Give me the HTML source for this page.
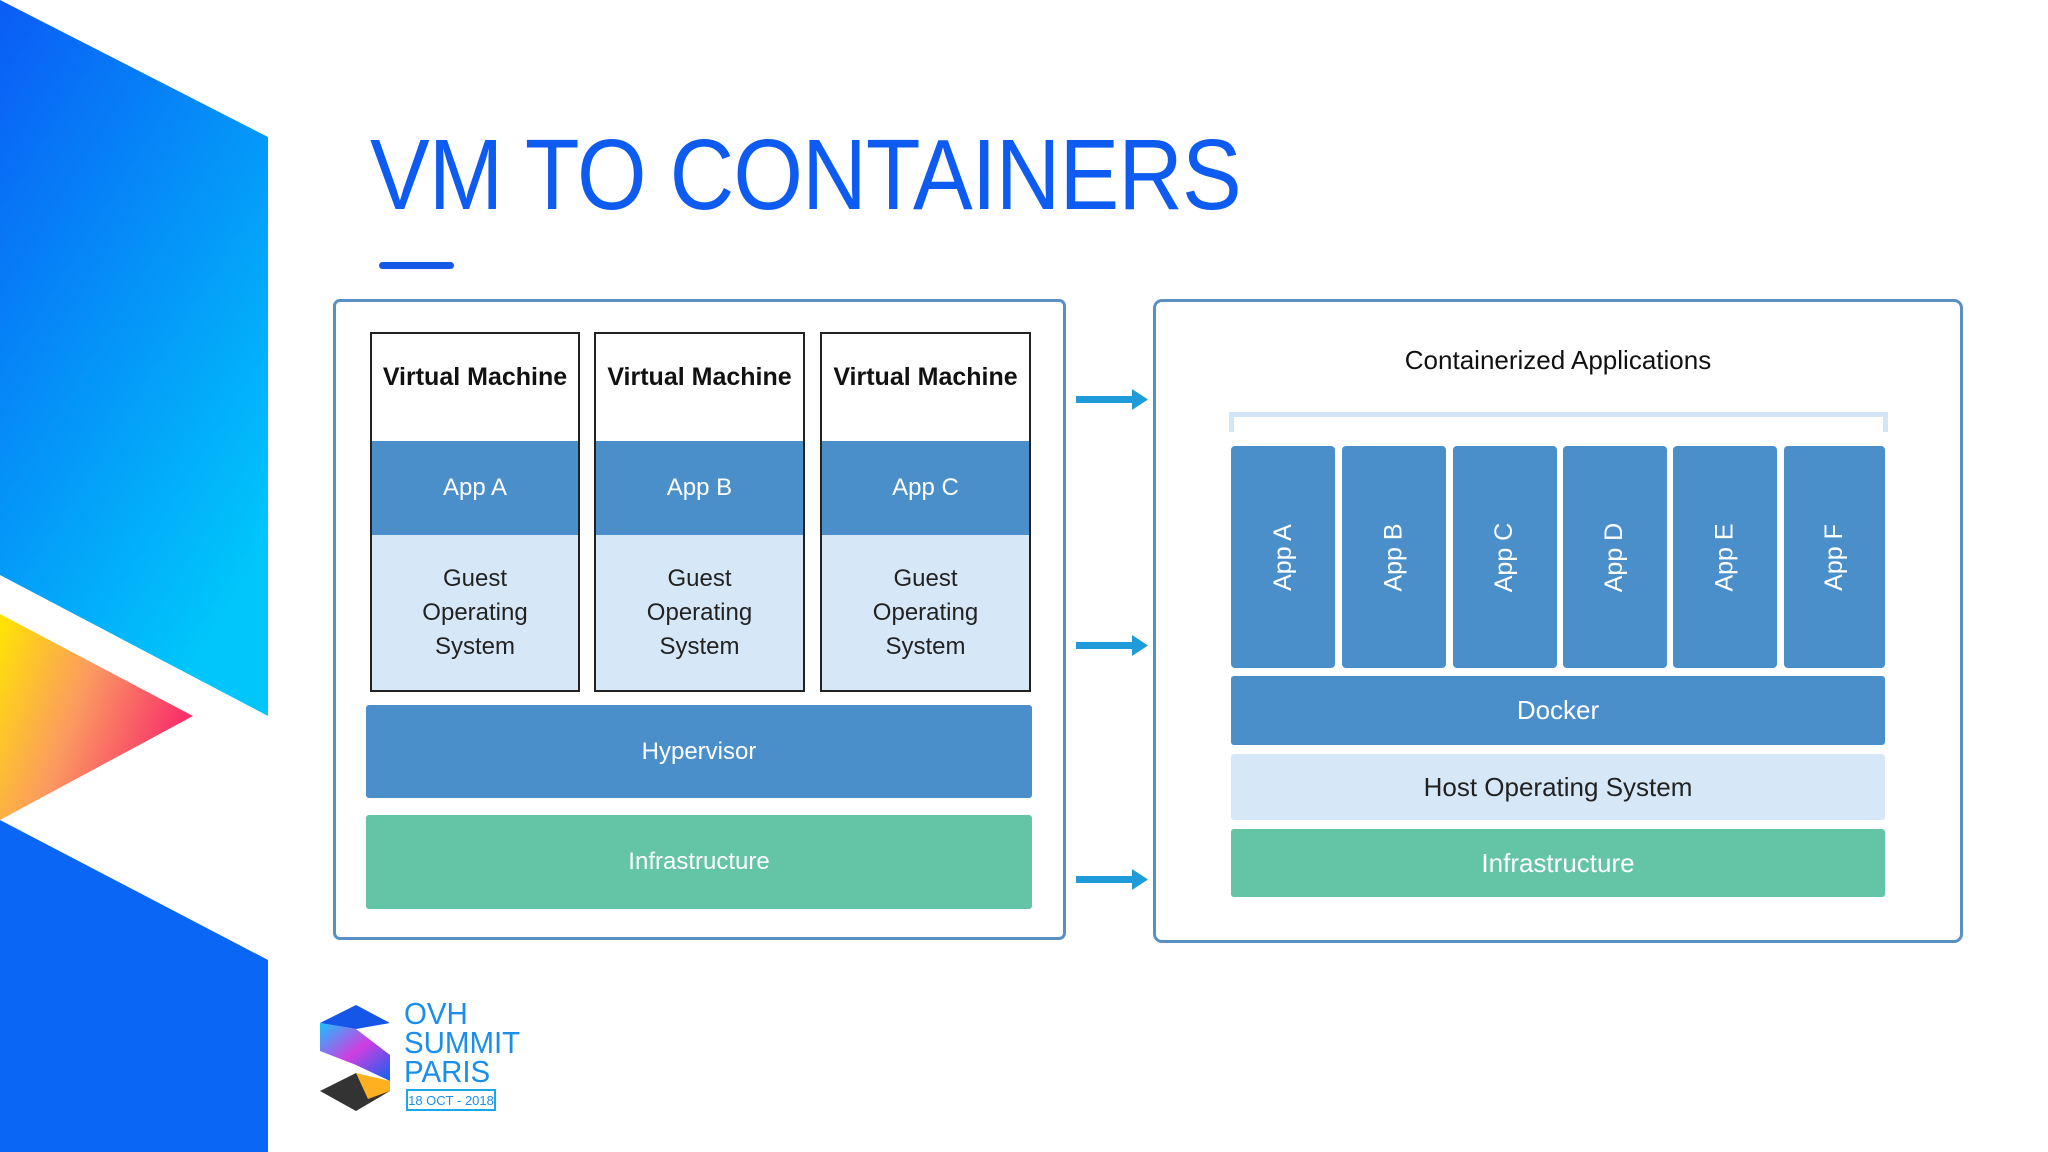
<!DOCTYPE html>
<html><head><meta charset="utf-8"><style>
*{margin:0;padding:0;box-sizing:border-box}
body{width:2048px;height:1152px;background:#fff;position:relative;overflow:hidden;font-family:"Liberation Sans",sans-serif}
.a{position:absolute}
.c{display:flex;align-items:center;justify-content:center;text-align:center}
.vm{border:2px solid #222;background:#fff}
.blue{background:#4a8fca;color:#fff}
.lb{background:#d6e8f8;color:#222}
.gr{background:#63c4a6;color:#fff}
.ap{background:#4a8fca;border-radius:4px}
.ap span{transform:rotate(-90deg);color:#fff;font-size:25px;white-space:nowrap}
</style></head><body>
<svg class="a" style="left:0;top:0" width="300" height="1152">
<defs>
<linearGradient id="g1" x1="0" y1="0" x2="0.6" y2="1"><stop offset="0" stop-color="#0a5cf5"/><stop offset="1" stop-color="#00c6fb"/></linearGradient>
<linearGradient id="g2" x1="0" y1="0" x2="1" y2="0.4"><stop offset="0" stop-color="#ffe600"/><stop offset="0.5" stop-color="#fb9a60"/><stop offset="1" stop-color="#f7306a"/></linearGradient>
</defs>
<polygon points="0,0 268,137 268,716 0,575" fill="url(#g1)"/>
<polygon points="0,614 193,716 0,820" fill="url(#g2)"/>
<polygon points="0,820 268,960 268,1152 0,1152" fill="#0a66f5"/>
</svg>
<div class="a" style="left:370px;top:118px;font-size:100px;color:#0d5bf0;white-space:nowrap;letter-spacing:-1px;transform:scaleX(0.895);transform-origin:0 0">VM TO CONTAINERS</div>
<div class="a" style="left:379px;top:262px;width:75px;height:7px;border-radius:4px;background:#1558e6"></div>

<div class="a" style="left:333px;top:299px;width:733px;height:641px;border:3px solid #5a8fc6;border-radius:7px"></div>
<!-- VMs -->
<div class="a vm" style="left:370px;top:332px;width:210px;height:360px"></div>
<div class="a vm" style="left:594px;top:332px;width:211px;height:360px"></div>
<div class="a vm" style="left:820px;top:332px;width:211px;height:360px"></div>
<div class="a c" style="left:372px;top:340px;width:206px;height:75px;font-weight:bold;font-size:25px;color:#111">Virtual Machine</div>
<div class="a c" style="left:596px;top:340px;width:207px;height:75px;font-weight:bold;font-size:25px;color:#111">Virtual Machine</div>
<div class="a c" style="left:822px;top:340px;width:207px;height:75px;font-weight:bold;font-size:25px;color:#111">Virtual Machine</div>
<div class="a c blue" style="left:372px;top:441px;width:206px;height:94px;font-size:24px">App A</div>
<div class="a c blue" style="left:596px;top:441px;width:207px;height:94px;font-size:24px">App B</div>
<div class="a c blue" style="left:822px;top:441px;width:207px;height:94px;font-size:24px">App C</div>
<div class="a c lb" style="left:372px;top:535px;width:206px;height:155px;font-size:24px;line-height:34px">Guest<br>Operating<br>System</div>
<div class="a c lb" style="left:596px;top:535px;width:207px;height:155px;font-size:24px;line-height:34px">Guest<br>Operating<br>System</div>
<div class="a c lb" style="left:822px;top:535px;width:207px;height:155px;font-size:24px;line-height:34px">Guest<br>Operating<br>System</div>
<div class="a c blue" style="left:366px;top:705px;width:666px;height:93px;font-size:24px;border-radius:3px">Hypervisor</div>
<div class="a c gr" style="left:366px;top:815px;width:666px;height:94px;font-size:24px;border-radius:3px">Infrastructure</div>

<!-- arrows -->
<svg class="a" style="left:1072px;top:380px" width="80" height="520">
<g fill="#1e9bd8">
<rect x="4" y="16" width="60" height="7"/><polygon points="60,9 76,19.5 60,30"/>
<rect x="4" y="262" width="60" height="7"/><polygon points="60,255 76,265.5 60,276"/>
<rect x="4" y="496" width="60" height="7"/><polygon points="60,489 76,499.5 60,510"/>
</g></svg>

<div class="a" style="left:1153px;top:299px;width:810px;height:644px;border:3px solid #5a8fc6;border-radius:9px"></div>
<div class="a c" style="left:1153px;top:340px;width:810px;height:40px;font-size:26px;color:#111">Containerized Applications</div>
<div class="a" style="left:1229px;top:412px;width:659px;height:20px;border:5px solid #d3e6f6;border-bottom:none"></div>
<div class="a c ap" style="left:1231px;top:446px;width:104px;height:222px"><span>App A</span></div>
<div class="a c ap" style="left:1342px;top:446px;width:104px;height:222px"><span>App B</span></div>
<div class="a c ap" style="left:1453px;top:446px;width:104px;height:222px"><span>App C</span></div>
<div class="a c ap" style="left:1563px;top:446px;width:104px;height:222px"><span>App D</span></div>
<div class="a c ap" style="left:1673px;top:446px;width:104px;height:222px"><span>App E</span></div>
<div class="a c ap" style="left:1784px;top:446px;width:101px;height:222px"><span>App F</span></div>
<div class="a c blue" style="left:1231px;top:676px;width:654px;height:69px;font-size:26px;border-radius:3px">Docker</div>
<div class="a c lb" style="left:1231px;top:754px;width:654px;height:66px;font-size:26px;border-radius:3px">Host Operating System</div>
<div class="a c gr" style="left:1231px;top:829px;width:654px;height:68px;font-size:26px;border-radius:3px">Infrastructure</div>

<!-- logo -->
<svg class="a" style="left:318px;top:1003px" width="76" height="110">
<defs><linearGradient id="lg" x1="0" y1="0" x2="1" y2="1"><stop offset="0" stop-color="#1ac0ff"/><stop offset="0.5" stop-color="#d03ee0"/><stop offset="1" stop-color="#1060f0"/></linearGradient></defs>
<polygon points="2,20 38,2 72,20 38,26" fill="#1555e8"/>
<polygon points="2,20 38,26 72,52 72,78 38,62 2,48" fill="url(#lg)"/>
<polygon points="2,88 38,70 72,88 38,108" fill="#333"/>
<polygon points="38,70 72,78 72,88 50,96" fill="#ffb020"/>
</svg>
<div class="a" style="left:404px;top:999px;font-size:31px;line-height:29px;color:#1a8ee8;transform:scaleX(0.95);transform-origin:0 0">OVH<br>SUMMIT<br>PARIS</div>
<div class="a c" style="left:406px;top:1089px;width:90px;height:22px;border:2px solid #1aa8e8;font-size:13px;color:#1a8ee8">18 OCT - 2018</div>
</body></html>
